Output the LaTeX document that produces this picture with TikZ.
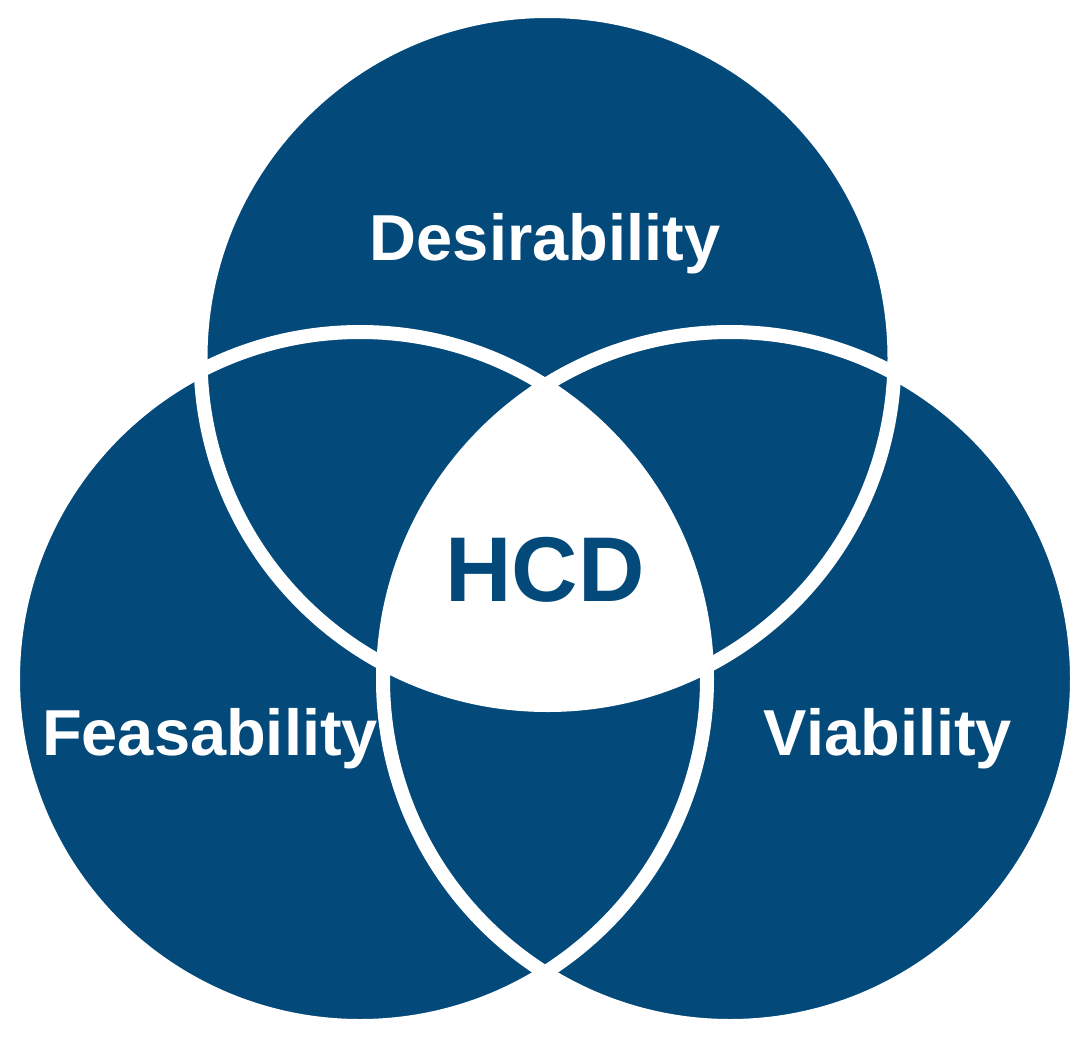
\documentclass[tikz,border=0pt]{standalone}
\usepackage{fontspec}
\setmainfont{Liberation Sans}
\definecolor{hcdblue}{RGB}{3,74,123}
\begin{document}
\begin{tikzpicture}[x=1pt,y=-1pt,
  disc/.style={fill=hcdblue},
  rim/.style={draw=white,line width=14pt},
  label/.style={anchor=base,text=white,font=\fontsize{65}{78}\selectfont\bfseries,inner sep=0pt},
  core/.style={anchor=base,text=hcdblue,font=\fontsize{92}{104}\selectfont\bfseries,inner sep=0pt}]
\useasboundingbox (0,0) rectangle (1090,1042);
\coordinate (T) at (547.5,358);
\coordinate (L) at (360,679);
\coordinate (R) at (730,679);
\fill[disc] (T) circle[radius=347pt];
\fill[disc] (L) circle[radius=347pt];
\fill[disc] (R) circle[radius=347pt];
\begin{scope}
  \clip (T) circle[radius=347pt];
  \clip (L) circle[radius=347pt];
  \fill[white] (R) circle[radius=347pt];
\end{scope}
\draw[rim] (T) circle[radius=347pt];
\draw[rim] (L) circle[radius=347pt];
\draw[rim] (R) circle[radius=347pt];
\node[label] (des) at (545,260) {Desirability};
\node[label] (fea) at (210,755) {Feasability};
\node[label] (via) at (888,755) {Viability};
\node[core] (hcd) at (545,601) {HCD};
\end{tikzpicture}
\end{document}
